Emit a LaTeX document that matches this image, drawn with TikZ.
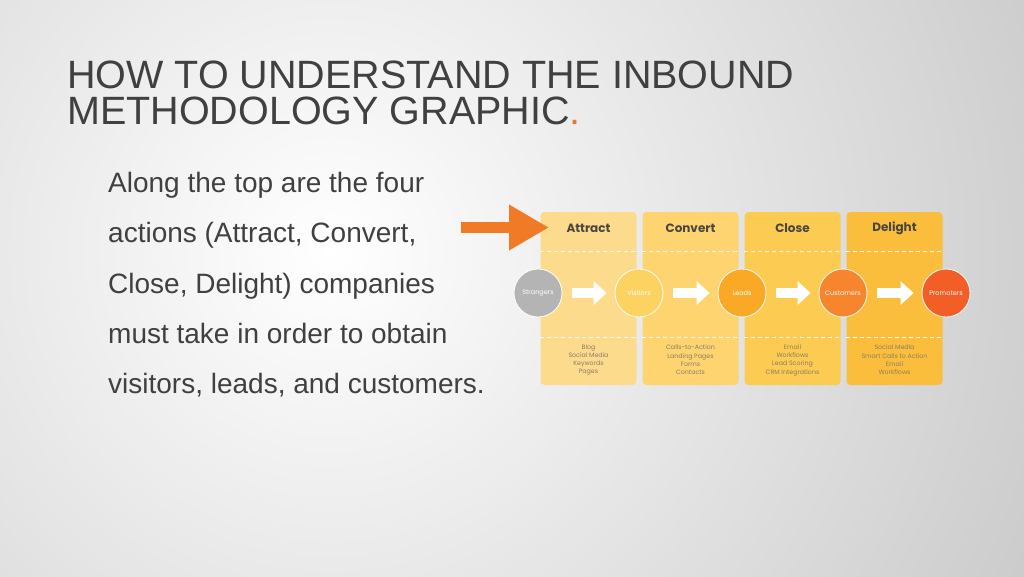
\documentclass[tikz,border=0pt]{standalone}
\usepackage{fontspec}
\setmainfont{Liberation Sans}
\newfontfamily\titlefont{Liberation Sans}
\newfontfamily\chartfont{Poppins}
\usepackage{tikz}
\usetikzlibrary{shapes,arrows.meta,positioning}

\definecolor{textgray}{HTML}{404040}
\definecolor{headgray}{HTML}{4A4540}
\definecolor{dotorange}{HTML}{E8792F}
\definecolor{attractcol}{HTML}{FDDB8C}
\definecolor{convertcol}{HTML}{FDD470}
\definecolor{closecol}{HTML}{FCCB52}
\definecolor{delightcol}{HTML}{FBBE3C}
\definecolor{strangercol}{HTML}{B4B4B4}
\definecolor{visitorcol}{HTML}{FCD260}
\definecolor{leadcol}{HTML}{F9A926}
\definecolor{customercol}{HTML}{F6852E}
\definecolor{promotercol}{HTML}{F35E27}
\definecolor{listgray}{HTML}{8A7D66}
\definecolor{arroworange}{HTML}{F07A26}

\tikzset{
  stagecol/.style={rounded corners=4pt, minimum width=96pt, minimum height=173pt, inner sep=0pt},
  colhead/.style={text=headgray, font=\chartfont\bfseries\fontsize{12}{14}\selectfont},
  stagecirc/.style={circle, draw=white, line width=0.8pt, minimum size=48pt, inner sep=0pt, text=white, font=\chartfont\fontsize{6.5}{7}\selectfont},
  toollist/.style={align=center, text=listgray, font=\chartfont\fontsize{6.3}{8.3}\selectfont},
  flowarrow/.style={white, line width=10pt, -{Triangle[length=13pt,width=23pt]}, shorten <=10pt, shorten >=8pt},
  rowline/.style={white, dash pattern=on 4pt off 3pt, line width=0.7pt},
  pointer/.style={arroworange, line width=11pt, -{Triangle[length=40pt,width=43pt]}},
  bodytext/.style={anchor=base west, inner sep=0pt, text=textgray, font=\fontsize{28}{34}\selectfont},
  titletext/.style={anchor=base west, inner sep=0pt, text=textgray, font=\titlefont\fontsize{39.5}{44}\selectfont}
}

\begin{document}
\begin{tikzpicture}[x=1pt,y=-1pt]
				\useasboundingbox (0,0) rectangle (1024,576);
				\begin{scope}
				\clip (0,0) rectangle (1024,576);
				\shade[inner color=white, outer color=gray!42] (330,250) circle (800);
				\end{scope}

				\node[titletext] (title1) at (67,88) {HOW TO UNDERSTAND THE INBOUND};
				\node[titletext] (title2) at (67,124) {METHODOLOGY GRAPHIC{\color{dotorange}.}};

				\node[bodytext] (body1) at (108,192) {Along the top are the four};
				\node[bodytext] (body2) at (108,242) {actions (Attract, Convert,};
				\node[bodytext] (body3) at (108,293) {Close, Delight) companies};
				\node[bodytext] (body4) at (108,343) {must take in order to obtain};
				\node[bodytext] (body5) at (108,393) {visitors, leads, and customers.};

				\node[stagecol, fill=attractcol] (attract) at (588.5,298.5) {};
				\node[stagecol, fill=convertcol] (convert) at (690.5,298.5) {};
				\node[stagecol, fill=closecol] (close) at (792.5,298.5) {};
				\node[stagecol, fill=delightcol] (delight) at (894.5,298.5) {};

				\draw[rowline] (attract.west |- 0,251) -- (attract.east |- 0,251);
				\draw[rowline] (convert.west |- 0,251) -- (convert.east |- 0,251);
				\draw[rowline] (close.west |- 0,251) -- (close.east |- 0,251);
				\draw[rowline] (delight.west |- 0,251) -- (delight.east |- 0,251);
				\draw[rowline] (attract.west |- 0,337) -- (attract.east |- 0,337);
				\draw[rowline] (convert.west |- 0,337) -- (convert.east |- 0,337);
				\draw[rowline] (close.west |- 0,337) -- (close.east |- 0,337);
				\draw[rowline] (delight.west |- 0,337) -- (delight.east |- 0,337);

				\node[colhead] (attracthead) at (588.5,228) {Attract};
				\node[colhead] (converthead) at (690.5,228) {Convert};
				\node[colhead] (closehead) at (792.5,228) {Close};
				\node[colhead] (delighthead) at (894.5,228) {Delight};

				\node[toollist] (attracttools) at (588.5,360) {Blog\\Social Media\\Keywords\\Pages};
				\node[toollist] (converttools) at (690.5,360) {Calls-to-Action\\Landing Pages\\Forms\\Contacts};
				\node[toollist] (closetools) at (792.5,360) {Email\\Workflows\\Lead Scoring\\CRM Integrations};
				\node[toollist] (delighttools) at (894.5,360) {Social Media\\Smart Calls to Action\\Email\\Workflows};

				\node[stagecirc, fill=strangercol] (strangers) at (538,293) {Strangers};
				\node[stagecirc, fill=visitorcol] (visitors) at (639,293) {Visitors};
				\node[stagecirc, fill=leadcol] (leads) at (742,293) {Leads};
				\node[stagecirc, fill=customercol] (customers) at (843,293) {Customers};
				\node[stagecirc, fill=promotercol] (promoters) at (946,293) {Promoters};

				\draw[flowarrow] (strangers) -- (visitors);
				\draw[flowarrow] (visitors) -- (leads);
				\draw[flowarrow] (leads) -- (customers);
				\draw[flowarrow] (customers) -- (promoters);

				\coordinate (pointstart) at (461,227.5);
				\coordinate (pointend) at (549,227.5);
				\draw[pointer] (pointstart) -- (pointend);
\end{tikzpicture}
\end{document}
